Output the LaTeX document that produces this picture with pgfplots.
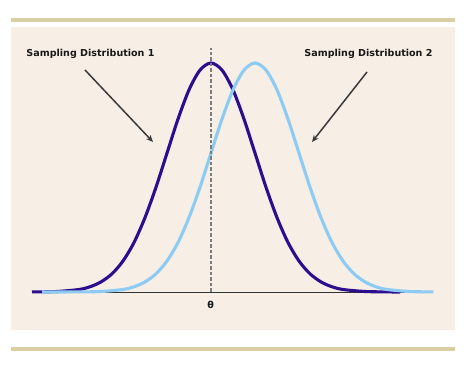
\documentclass[border=0pt]{standalone}
\usepackage{pgfplots}
\pgfplotsset{compat=1.18}
\usetikzlibrary{arrows.meta}
\usepackage{fontspec}
\setmainfont{DejaVu Sans}
\definecolor{tanline}{HTML}{D9CFA3}
\definecolor{panel}{HTML}{F7EEE5}
\definecolor{darkc}{HTML}{2C0D8E}
\definecolor{lightc}{HTML}{8CCBF4}
\definecolor{arrowc}{HTML}{3A3A3A}
\definecolor{dashc}{HTML}{7C7C7C}
\begin{document}
\begin{tikzpicture}
\begin{axis}[
  scale only axis, width=474bp, height=379bp,
  xmin=0, xmax=474, ymin=-87, ymax=292,
  hide axis, clip=false, enlargelimits=false]
\fill[white] (axis cs:0,-87) rectangle (axis cs:474,292);
\fill[tanline] (axis cs:11.3,270.3) rectangle (axis cs:455,273.7);
\fill[panel] (axis cs:11.3,-38) rectangle (axis cs:454.7,265.3);
\fill[tanline] (axis cs:11.3,-55.3) rectangle (axis cs:455,-59);
\draw[black!80, line width=1bp] (axis cs:32,-0.5) -- (axis cs:433,-0.5);
\addplot[darkc, line width=3.1bp, smooth] coordinates {
(32,0.05) (35,0.1) (57,0.5) (79,2.5) (90,5.2) (101,10.1) (112,18.2) (123,31.0)
(134,49.5) (145,74.4) (156,104.8) (167,138.9) (178,172.9) (189,202.1) (200,221.9)
(211,229) (222,221.9) (233,202.1) (244,172.9) (255,138.9) (266,104.8) (277,74.4)
(288,49.5) (299,31.0) (310,18.2) (321,10.1) (332,5.2) (343,2.5) (365,0.5) (387,0.1) (400,0)};
\addplot[lightc, line width=3.1bp, smooth] coordinates {
(42,0) (79,0.1) (101,0.5) (123,2.5) (134,5.2) (145,10.1) (156,18.2) (167,31.0)
(178,49.5) (189,74.4) (200,104.8) (211,138.9) (222,172.9) (233,202.1) (244,221.9)
(255,229) (266,221.9) (277,202.1) (288,172.9) (299,138.9) (310,104.8) (321,74.4)
(332,49.5) (343,31.0) (354,18.2) (365,10.1) (376,5.2) (387,2.5) (409,0.5) (431,0.1) (433,0.05)};
\addplot[dashc, line width=1.7bp, dash pattern=on 3.5bp off 2bp] coordinates {(210.7,0) (210.7,244)};
\draw[arrowc, line width=1.5bp, -{Stealth[length=7bp,width=6bp]}] (axis cs:85,222) -- (axis cs:153,150);
\draw[arrowc, line width=1.5bp, -{Stealth[length=7bp,width=6bp]}] (axis cs:367,220) -- (axis cs:312,150);
\node[font=\fontsize{9.6}{11}\selectfont\bfseries, text=black!90] at (axis cs:90.5,237.7) {Sampling Distribution 1};
\node[font=\fontsize{9.6}{11}\selectfont\bfseries, text=black!90] at (axis cs:368.5,238) {Sampling Distribution 2};
\node[font=\fontsize{9.6}{11}\selectfont\bfseries, text=black!90] at (axis cs:210.7,-13) {θ};
\end{axis}
\end{tikzpicture}
\end{document}
